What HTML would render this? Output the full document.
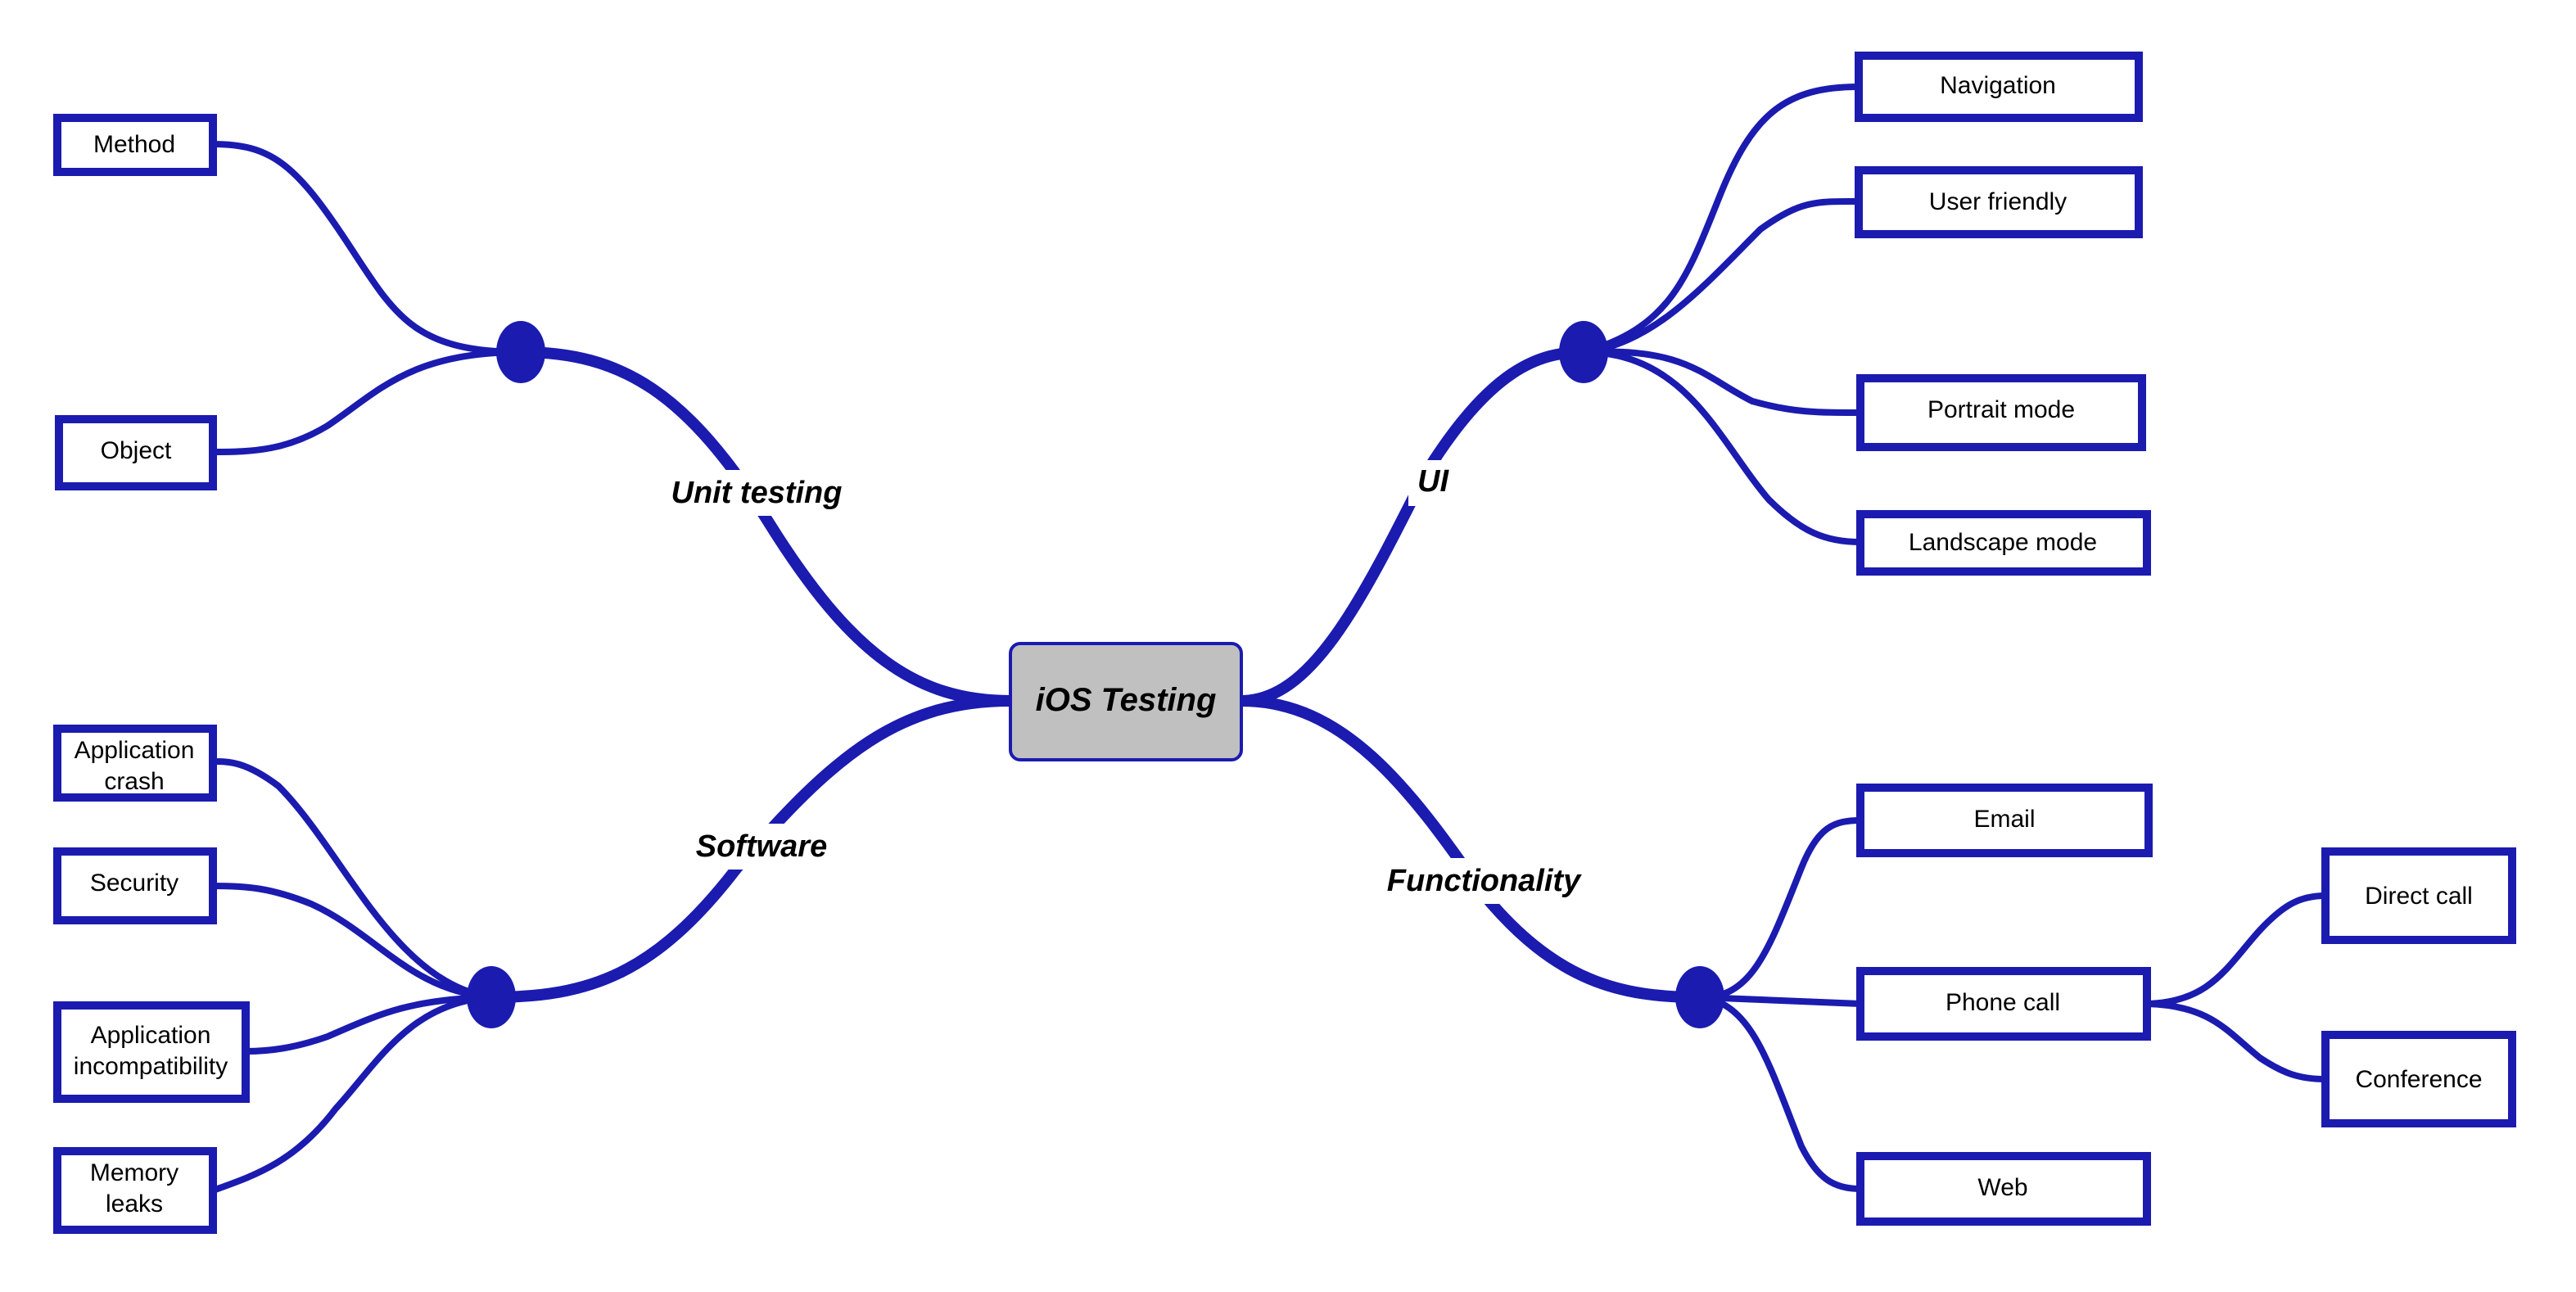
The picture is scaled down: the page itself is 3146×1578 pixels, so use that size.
<!DOCTYPE html>
<html><head><meta charset="utf-8"><style>
html,body{margin:0;padding:0;background:#fff;width:3146px;height:1578px;overflow:hidden}
svg{display:block}
text{font-family:"Liberation Sans",sans-serif;fill:#000}
</style></head><body>
<svg width="3146" height="1578" viewBox="0 0 1573 789" xmlns="http://www.w3.org/2000/svg">
<g fill="none" stroke="#1b1bb0" stroke-linecap="round">
<!-- main branches -->
<g stroke-width="7">
<path d="M617,428 C560,428 520,400 470,320 C420,240 380,215 318,215"/>
<path d="M758,428 C800,428 830,370 870,290 C910,225 940,215 967,215"/>
<path d="M617,428 C550,428 510,460 450,530 C400,595 360,609 300,609"/>
<path d="M758,428 C820,428 860,480 905,545 C950,600 990,609 1038,609"/>
</g>
<g stroke-width="4">
<path d="M318,215 C250,215 240,190 210,145 C180,100 165,88 130,88"/>
<path d="M318,215 C250,215 230,240 200,260 C175,275 155,276 130,276"/>
<path d="M967,215 C1020,200 1030,170 1050,120 C1070,70 1090,53 1135,53"/>
<path d="M967,215 C1010,210 1040,175 1075,140 C1100,122 1110,123 1135,123"/>
<path d="M967,215 C1030,212 1040,230 1070,245 C1095,252 1110,252 1136,252"/>
<path d="M967,215 C1030,215 1050,270 1080,305 C1100,325 1115,331 1136,331"/>
<path d="M300,609 C240,600 210,520 170,480 C150,465 140,465 130,465"/>
<path d="M300,609 C250,605 230,570 190,552 C165,542 150,541 130,541"/>
<path d="M300,609 C250,610 230,620 200,633 C180,640 165,642 150,642"/>
<path d="M300,609 C250,612 230,650 205,677 C180,710 155,718 130,727"/>
<path d="M1038,609 C1070,610 1080,580 1100,530 C1110,505 1120,501 1136,501"/>
<path d="M1038,609 L1136,613"/>
<path d="M1038,609 C1070,612 1080,650 1100,700 C1110,720 1120,726 1136,726"/>
<path d="M1311,613 C1350,612 1360,590 1380,568 C1395,552 1405,547 1420,547"/>
<path d="M1311,613 C1350,614 1360,630 1380,646 C1395,656 1405,659 1420,659"/>
</g>
</g>
<g fill="#1b1bb0">
<ellipse cx="318" cy="215" rx="15" ry="19"/>
<ellipse cx="967" cy="215" rx="15" ry="19"/>
<ellipse cx="300" cy="609" rx="15" ry="19"/>
<ellipse cx="1038" cy="609" rx="15" ry="19"/>
</g>
<!-- branch labels -->
<g font-size="19" font-weight="bold" font-style="italic" text-anchor="middle">
<rect x="404" y="287" width="116" height="28" fill="#fff"/>
<text x="462" y="307">Unit testing</text>
<rect x="860" y="281" width="30" height="28" fill="#fff"/>
<text x="875" y="300">UI</text>
<rect x="420" y="503" width="92" height="28" fill="#fff"/>
<text x="465" y="523">Software</text>
<rect x="840" y="524" width="132" height="28" fill="#fff"/>
<text x="906" y="544">Functionality</text>
</g>
<rect x="617" y="393" width="141" height="71" rx="6" fill="#c0c0c0" stroke="#1b1bb0" stroke-width="2"/>
<text x="687.5" y="434" font-size="20" font-weight="bold" font-style="italic" text-anchor="middle">iOS Testing</text>
<g fill="#fff" stroke="#1b1bb0" stroke-width="5">
<rect x="35" y="72" width="95" height="33"/>
<rect x="36" y="256" width="94" height="41"/>
<rect x="35" y="445" width="95" height="42"/>
<rect x="35" y="520" width="95" height="42"/>
<rect x="35" y="614" width="115" height="57"/>
<rect x="35" y="703" width="95" height="48"/>
<rect x="1135" y="34" width="171" height="38"/>
<rect x="1135" y="104" width="171" height="39"/>
<rect x="1136" y="231" width="172" height="42"/>
<rect x="1136" y="314" width="175" height="35"/>
<rect x="1136" y="481" width="176" height="40"/>
<rect x="1136" y="593" width="175" height="40"/>
<rect x="1136" y="706" width="175" height="40"/>
<rect x="1420" y="520" width="114" height="54"/>
<rect x="1420" y="632" width="114" height="54"/>
</g>
<g font-size="15" text-anchor="middle">
<text x="82" y="93">Method</text>
<text x="83" y="280">Object</text>
<text x="82" y="463">Application</text><text x="82" y="482">crash</text>
<text x="82" y="544">Security</text>
<text x="92" y="637">Application</text><text x="92" y="656">incompatibility</text>
<text x="82" y="721">Memory</text><text x="82" y="740">leaks</text>
<text x="1220" y="57">Navigation</text>
<text x="1220" y="128">User friendly</text>
<text x="1222" y="255">Portrait mode</text>
<text x="1223" y="336">Landscape mode</text>
<text x="1224" y="505">Email</text>
<text x="1223" y="617">Phone call</text>
<text x="1223" y="730">Web</text>
<text x="1477" y="552">Direct call</text>
<text x="1477" y="664">Conference</text>
</g>
</svg>
</body></html>
